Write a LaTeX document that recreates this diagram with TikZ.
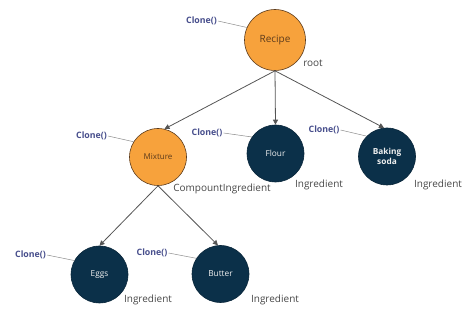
\documentclass[tikz,border=0pt]{standalone}
\usepackage{fontspec}
\setmainfont{Open Sans}
\usetikzlibrary{arrows.meta}

\definecolor{partorange}{HTML}{F7A23C}
\definecolor{orangeink}{HTML}{5C3B1C}
\definecolor{partnavy}{HTML}{0B3049}
\definecolor{cloneblue}{HTML}{474E8C}
\definecolor{edgegray}{HTML}{555555}

\begin{document}
\begin{tikzpicture}[
  x=1pt, y=-1pt,
  compound/.style={circle, minimum size=57pt, inner sep=0pt,
                   fill=partorange, draw=orangeink, line width=0.6pt,
                   text=orangeink, font=\fontsize{8}{10}\selectfont},
  leaf/.style={circle, minimum size=57pt, inner sep=0pt,
               fill=partnavy, draw=partnavy!80!black, line width=0.6pt,
               text=white!88!gray, align=center,
               font=\fontsize{8.3}{10}\selectfont},
  clone/.style={font=\bfseries\fontsize{8.8}{10}\selectfont,
                text=cloneblue, inner sep=1pt},
  role/.style={font=\fontsize{10}{12}\selectfont, text=black!72},
  arrow/.style={-{Triangle[length=5pt, width=5pt]}, edgegray, line width=0.8pt},
  hook/.style={draw=black!45, line width=0.5pt},
]
\useasboundingbox (0,0) rectangle (474,320);

%% ── Part nodes ────────────────────────────────────────
\node[compound, minimum size=61pt, font=\fontsize{10}{12}\selectfont]
                    (recipe)  at (275,40)    {Recipe};
\node[compound]     (mixture) at (158,157)   {Mixture};
\node[leaf]         (flour)   at (275.5,153.5) {Flour};
\node[leaf, font=\bfseries\fontsize{8.3}{10.5}\selectfont]
                    (soda)    at (387,156.5) {Baking\\soda};
\node[leaf]         (eggs)    at (99.5,274.5) {Eggs};
\node[leaf]         (butter)  at (220.5,274) {Butter};

%% ── Role labels ───────────────────────────────────────
\node[role] (rootlbl)  at (313,63)  {root};
\node[role] (mixlbl)   at (222,189) {CompountIngredient};
\node[role] (flourlbl) at (319,185) {Ingredient};
\node[role] (sodalbl)  at (438,185) {Ingredient};
\node[role] (eggslbl)  at (148,300) {Ingredient};
\node[role] (butlbl)   at (275,300) {Ingredient};

%% ── Clone() labels ────────────────────────────────────
\node[clone] (crecipe)  at (201.5,21) {Clone()};
\node[clone] (cmixture) at (91.5,136) {Clone()};
\node[clone] (cflour)   at (207,133)  {Clone()};
\node[clone] (csoda)    at (324,130)  {Clone()};
\node[clone] (ceggs)    at (30.5,255) {Clone()};
\node[clone] (cbutter)  at (152,253)  {Clone()};

\draw[hook] (crecipe.east)  -- (recipe.156);
\draw[hook] (cmixture.east) -- (mixture.148);
\draw[hook] (cflour.east)   -- (flour.145);
\draw[hook] (csoda.east)    -- (soda.135);
\draw[hook] (ceggs.east)    -- (eggs.151);
\draw[hook] (cbutter.east)  -- (butter.147);

%% ── Child arrows ──────────────────────────────────────
\draw[arrow] (recipe.south)  -- (mixture.77);
\draw[arrow] (recipe.south)  -- (flour.north);
\draw[arrow] (recipe.south)  -- (soda.96);
\draw[arrow] (mixture.south) -- (eggs.north);
\draw[arrow] (mixture.south) -- (butter.95);

\end{tikzpicture}
\end{document}
